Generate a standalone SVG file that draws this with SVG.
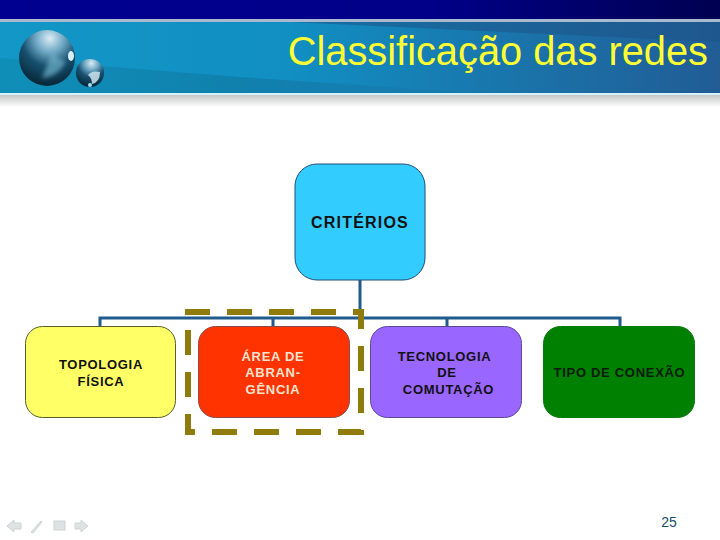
<svg xmlns="http://www.w3.org/2000/svg" width="720" height="540" viewBox="0 0 720 540">
<defs>
<linearGradient id="top" x1="0" x2="1" y1="0" y2="0"><stop offset="0" stop-color="#000090"/><stop offset=".6" stop-color="#000088"/><stop offset="1" stop-color="#000050"/></linearGradient>
<linearGradient id="band" x1="0" x2="1" y1="0" y2="0"><stop offset="0" stop-color="#1297c6"/><stop offset=".4" stop-color="#118fc2"/><stop offset="1" stop-color="#215c95"/></linearGradient>
<linearGradient id="low" x1="0" x2="1" y1="0" y2="0"><stop offset="0" stop-color="#0f8fb8"/><stop offset=".5" stop-color="#1080ad"/><stop offset="1" stop-color="#1b6aa0" stop-opacity="0"/></linearGradient>
<linearGradient id="shade" x1="0" x2="0" y1="0" y2="1"><stop offset="0" stop-color="#c4c6c6"/><stop offset="1" stop-color="#ffffff"/></linearGradient>
<radialGradient id="ball" cx=".55" cy=".15" r=".9"><stop offset="0" stop-color="#dcecf4"/><stop offset=".28" stop-color="#6fa8c4"/><stop offset=".55" stop-color="#17506f"/><stop offset="1" stop-color="#04202f"/></radialGradient>
<filter id="soft"><feGaussianBlur stdDeviation=".7"/></filter>
<filter id="soft2"><feGaussianBlur stdDeviation="2"/></filter>
</defs>
<style>
.n{stroke-width:1}
.t{font-family:"Liberation Sans",Arial,sans-serif;font-size:13px;font-weight:bold;text-anchor:middle;letter-spacing:.7px}
.c{fill:none;stroke:#215a8c;stroke-width:3}
.d{fill:none;stroke:#8f7a0c;stroke-width:6;stroke-dasharray:25 17}
.nav{fill:#dfe2e2;stroke:#d0d3d3}
</style>
<rect width="720" height="540" fill="#fff"/>
<g id="header">
<rect width="720" height="19" fill="url(#top)"/>
<rect y="19" width="720" height="3" fill="#a9b9cf"/>
<rect y="22" width="720" height="71" fill="url(#band)"/>
<path d="M290 22H720V42Z" fill="#1d5488" opacity=".55"/>
<path d="M0 58L240 77L480 93H0Z" fill="url(#low)"/>
<rect y="93" width="720" height="2" fill="#d5f2f8"/>
<rect y="95" width="720" height="12" fill="url(#shade)"/>
<circle cx="47" cy="58" r="28" fill="url(#ball)"/>
<path d="M42 78Q50 60 52 50Q58 62 66 60Q60 76 42 78Z" fill="#6fb0c8" opacity=".7" filter="url(#soft2)"/>
<ellipse cx="71" cy="56" rx="3" ry="5" fill="#d8eef6" filter="url(#soft)"/>
<circle cx="90" cy="73" r="14" fill="url(#ball)"/>
<path d="M88 75Q92 70 100 72Q100 82 92 84Q92 78 88 75Z" fill="#cfe4ee" opacity=".85" filter="url(#soft)"/>
<circle cx="90" cy="85" r="2" fill="#9fe0f2" filter="url(#soft)"/>
<text x="708" y="65" text-anchor="end" font-family="'Liberation Sans',Arial,sans-serif" font-size="39.8" fill="#ffff33">Classificação das redes</text>
</g>
<g id="connectors">
<path class="c" d="M360 280V318M100 326V318H620V326M273 318V326M447 318V326"/>
</g>
<g id="criterios"><rect class="n" x="295" y="164" width="130" height="116" rx="22" fill="#33ccff" stroke="#1f4e79"/><text class="t" x="360" y="228" style="font-size:16px;letter-spacing:1.2px" fill="#111">CRITÉRIOS</text></g>
<g id="topologia"><rect class="n" x="25.500" y="326.500" width="150" height="91" rx="17" fill="#ffff66" stroke="#55602a"/><text class="t" x="101" y="369" fill="#111">TOPOLOGIA</text><text class="t" x="101" y="386" fill="#111">FÍSICA</text></g>
<g id="area"><rect class="n" x="198.500" y="326.500" width="151" height="91" rx="17" fill="#ff3300" stroke="#8a4a4a"/><text class="t" x="273" y="361" fill="#f4e3d0">ÁREA DE</text><text class="t" x="273" y="377" fill="#f4e3d0">ABRAN-</text><text class="t" x="273" y="394" fill="#f4e3d0">GÊNCIA</text></g>
<g id="tecnologia"><rect class="n" x="370.500" y="326.500" width="151" height="91" rx="17" fill="#9966ff" stroke="#5b4a9a"/><text class="t" x="444.500" y="361" fill="#111">TECNOLOGIA</text><text class="t" x="447" y="377" fill="#111">DE</text><text class="t" x="448.500" y="394" fill="#111">COMUTAÇÃO</text></g>
<g id="tipo"><rect class="n" x="543.500" y="326.500" width="151" height="91" rx="17" fill="#008000" stroke="#0a7a0a"/><text class="t" x="619.500" y="377" fill="#0b1a0b">TIPO DE CONEXÃO</text></g>
<g id="selection"><path class="d" d="M185 312H361V432H188V312"/></g>
<g id="nav" filter="url(#soft)">
<path class="nav" d="M7 526L14 520V523H21V529H14V532Z"/>
<path class="nav" d="M31 532L41 521L42 522L33 533Z"/>
<rect class="nav" x="54" y="521" width="11" height="9"/>
<path class="nav" d="M88 526L81 520V523H75V529H81V532Z"/>
</g>
<text x="669" y="527" text-anchor="middle" font-family="'Liberation Sans',Arial,sans-serif" font-size="14" fill="#14506e">25</text>
</svg>
